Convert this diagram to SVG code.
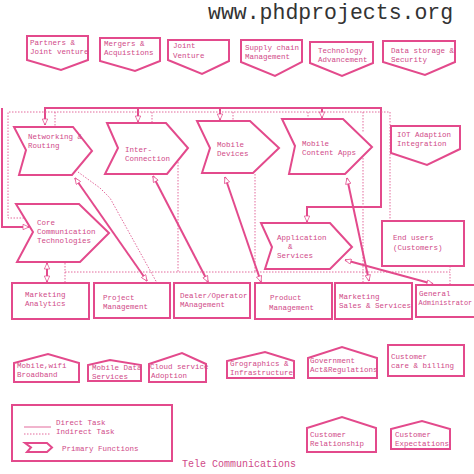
<svg xmlns="http://www.w3.org/2000/svg" width="474" height="474" viewBox="0 0 474 474">
<defs>
<style>
.box{fill:none;stroke:#e34a8c;stroke-width:2;stroke-linejoin:miter}
.t{font-family:"Liberation Mono",monospace;font-size:7.5px;fill:#d04a88}
.s{fill:none;stroke:#e34a8c;stroke-width:2}
.d{fill:none;stroke:#e36a9c;stroke-width:1;stroke-dasharray:1.5 1.5}
</style>
<marker id="ah" viewBox="0 0 10 10" refX="10" refY="5" markerWidth="9" markerHeight="6" markerUnits="userSpaceOnUse" orient="auto-start-reverse">
<path d="M0,0.5 L10,5 L0,9.5 z" fill="#fff" stroke="#e34a8c" stroke-width="1.2"/>
</marker>
</defs>
<rect width="474" height="474" fill="#fff"/>
<text x="208" y="18.5" style="font-family:'Liberation Mono',monospace;font-size:21.5px;fill:#333">www.phdprojects.org</text>

<g id="connectors">
<path class="s" d="M45,125 V108 H381 V207 H307 V222" marker-end="url(#ah)"/>
<path class="s" d="M2,108 V227 H29" marker-end="url(#ah)"/>
<path class="s" d="M45,108 V125" marker-end="url(#ah)"/>
<path class="s" d="M138,108 V122" marker-end="url(#ah)"/>
<path class="s" d="M220,108 V120" marker-end="url(#ah)"/>
<path class="s" d="M322,108 V118" marker-end="url(#ah)"/>
<path class="d" d="M24,218 H8 V112 H390 V221"/>
<path class="d" d="M55,112 V127 M152,112 V123 M233,112 V121 M308,112 V119 M363,112 V132"/>
<path class="d" d="M65,263 V283 M65,272 H450 V285 M450,266 V272"/>
<path class="d" d="M178,162 V272 M255,174 V272 M363,158 V283"/>
<path class="d" d="M78,172 L100,188 L110,198 L157,283"/>
<path class="s" d="M75,178 L147,281" marker-start="url(#ah)" marker-end="url(#ah)"/>
<path class="s" d="M153,176 L208,282" marker-start="url(#ah)" marker-end="url(#ah)"/>
<path class="s" d="M225,177 L261,282" marker-start="url(#ah)" marker-end="url(#ah)"/>
<path class="s" d="M347,178 L369,281" marker-start="url(#ah)" marker-end="url(#ah)"/>
<path class="s" d="M345,260 L433,284" marker-start="url(#ah)" marker-end="url(#ah)"/>
<path class="s" d="M47,263 L47,282" marker-start="url(#ah)" marker-end="url(#ah)"/>
</g>

<g id="partners"><path class="box" d="M27,36 H88 V60 L61,70 L27,60 Z"/><text class="t" x="30" y="45">Partners &amp;</text><text class="t" x="30" y="54">Joint venture</text></g>
<g id="mergers"><path class="box" d="M100,38 H160 V61 L135,71 L100,61 Z"/><text class="t" x="104" y="46">Mergers &amp;</text><text class="t" x="104" y="55">Acquistions</text></g>
<g id="jointventure"><path class="box" d="M168,40 H229 V61 L202,74 L168,60 Z"/><text class="t" x="173" y="48">Joint</text><text class="t" x="173" y="58">Venture</text></g>
<g id="supply"><path class="box" d="M241,40 H302 V62 L275,76 L241,62 Z"/><text class="t" x="245" y="50">Supply chain</text><text class="t" x="245" y="59">Management</text></g>
<g id="technology"><path class="box" d="M310,42 H373 V63 L342,76 L310,63 Z"/><text class="t" x="318" y="53">Technology</text><text class="t" x="318" y="62">Advancement</text></g>
<g id="datastorage"><path class="box" d="M383,41 H455 V62 L425,75 L383,62 Z"/><text class="t" x="391" y="53">Data storage &amp;</text><text class="t" x="391" y="62">Security</text></g>

<g id="networking"><path class="box" d="M14,127 H73 L92,151 L72,175 H19 L26,150 Z"/><text class="t" x="28" y="139">Networking &amp;</text><text class="t" x="28" y="148">Routing</text></g>
<g id="interconnection"><path class="box" d="M107,123 H166 L188,148 L167,174 H105 L118,148 Z"/><text class="t" x="125" y="152">Inter-</text><text class="t" x="125" y="161">Connection</text></g>
<g id="mobiledevices"><path class="box" d="M197,121 H250 L279,148 L253,173 H202 L210,148 Z"/><text class="t" x="217" y="147">Mobile</text><text class="t" x="217" y="156">Devices</text></g>
<g id="mobilecontent"><path class="box" d="M282,119 H343 L372,147 L345,174 H289 L295,146 Z"/><text class="t" x="302" y="146">Mobile</text><text class="t" x="302" y="155">Content Apps</text></g>
<g id="iot"><path class="box" d="M391,126 H460 V149 L427,165 L391,153 Z"/><text class="t" x="397" y="137">IOT Adaption</text><text class="t" x="397" y="146">Integration</text></g>
<g id="core"><path class="box" d="M16,204 H79 L109,233 L80,262 H17 L33,232 Z"/><text class="t" x="37" y="225">Core</text><text class="t" x="37" y="234">Communication</text><text class="t" x="37" y="243">Technologies</text></g>
<g id="application"><path class="box" d="M261,223 H330 L352,247 L330,269 H265 L272,247 Z"/><text class="t" x="277" y="240">Application</text><text class="t" x="288" y="249">&amp;</text><text class="t" x="277" y="258">Services</text></g>
<g id="endusers"><rect class="box" x="382" y="221" width="82" height="45"/><text class="t" x="393" y="240">End users</text><text class="t" x="393" y="250">(Customers)</text></g>

<g id="marketinganalytics"><rect class="box" x="12" y="283" width="77" height="36"/><text class="t" x="25" y="297">Marketing</text><text class="t" x="25" y="306">Analytics</text></g>
<g id="projectmgmt"><rect class="box" x="94" y="283" width="76" height="35"/><text class="t" x="103" y="300">Project</text><text class="t" x="103" y="309">Management</text></g>
<g id="dealer"><rect class="box" x="174" y="283" width="76" height="35"/><text class="t" x="180" y="298">Dealer/Operator</text><text class="t" x="180" y="307">MAnagement</text></g>
<g id="productmgmt"><rect class="box" x="255" y="283" width="77" height="36"/><text class="t" x="270" y="300">Product</text><text class="t" x="269" y="310">Management</text></g>
<g id="marketingsales"><rect class="box" x="335" y="283" width="77" height="36"/><text class="t" x="339" y="299">Marketing</text><text class="t" x="339" y="308">Sales &amp; Services</text></g>
<g id="generaladmin"><rect class="box" x="416" y="285" width="62" height="32"/><text class="t" x="419" y="296">General</text><text class="t" x="418.5" y="305" style="font-size:6.9px">Administrator</text></g>

<g id="mobilewifi"><path class="box" d="M14,382 V363 L48,354 L79,363 V382 Z"/><text class="t" x="17" y="368">Mobile,wifi</text><text class="t" x="17" y="377">Broadband</text></g>
<g id="mobiledata"><path class="box" d="M88,381 V365 L110,360 L141,365 V381 Z"/><text class="t" x="92" y="370">Mobile Data</text><text class="t" x="92" y="379">Services</text></g>
<g id="cloud"><path class="box" d="M149,382 V364 L182,353 L206,364 V382 Z"/><text class="t" x="150" y="369">Cloud service</text><text class="t" x="151" y="378">Adoption</text></g>
<g id="geographics"><path class="box" d="M227,378 V361 L265,352 L294,361 V378 Z"/><text class="t" x="230" y="366">Grographics &amp;</text><text class="t" x="230" y="375">Infrastructure</text></g>
<g id="government"><path class="box" d="M308,378 V358 L342,347 L377,358 V378 Z"/><text class="t" x="310" y="363">Government</text><text class="t" x="310" y="372">Act&amp;Regulations</text></g>
<g id="customercare"><rect class="box" x="388" y="345" width="76" height="31"/><text class="t" x="391" y="359">Customer</text><text class="t" x="391" y="368">care &amp; billing</text></g>

<g id="legend"><rect class="box" x="12" y="405" width="160" height="56"/>
<line x1="24" y1="427" x2="51" y2="427" stroke="#e36a9c" stroke-width="1"/>
<line class="d" x1="24" y1="434" x2="51" y2="434"/>
<path class="box" d="M25,443 H47 L52,447.5 L47,452 H27 L31,447.5 Z"/>
<text class="t" x="56" y="425">Direct Task</text><text class="t" x="56" y="434">Indirect Task</text><text class="t" x="62" y="451">Primary Functions</text></g>

<g id="customerrel"><path class="box" d="M307,452 V428 L342,417 L376,428 V452 Z"/><text class="t" x="310" y="437">Customer</text><text class="t" x="310" y="446">Relationship</text></g>
<g id="customerexp"><path class="box" d="M391,449 V429 L422,421 L450,429 V449 Z"/><text class="t" x="395" y="437">Customer</text><text class="t" x="395" y="446">Expectations</text></g>

<text x="182" y="467" style="font-family:'Liberation Mono',monospace;font-size:10px;fill:#d04a88">Tele Communications</text>
</svg>
